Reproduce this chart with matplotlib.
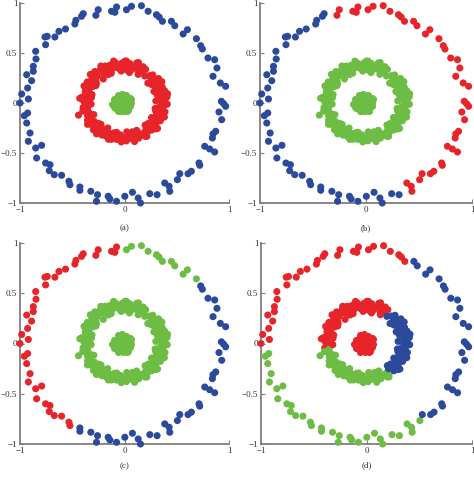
import numpy as np
import matplotlib
matplotlib.use("Agg")
import matplotlib.pyplot as plt

# ---------------- data ----------------
# outer ring points (x, y)
outer_x = [-0.252, -0.274, -0.395, -0.411, -0.465, -0.475, -0.564, -0.627, -0.666, -0.739,
           -0.761, -0.755, -0.850, -0.847, -0.873, -0.873, -0.936, -0.889, -0.927, -0.984,
           -0.920, -1.000, -0.959, -0.927, -0.936, -0.904, -0.920, -0.850, -0.793, -0.841,
           -0.755, -0.713, -0.720, -0.672, -0.602, -0.532, -0.522, -0.427, -0.427, -0.322,
           -0.258, -0.268, -0.156, -0.140, -0.076, 0.003, 0.076, 0.131, 0.153, 0.242,
           0.312, 0.385, 0.427, 0.433, 0.506, 0.529, 0.608, 0.640, 0.713, 0.720,
           0.768, 0.815, 0.863, 0.841, 0.847, 0.873, 0.930, 0.904, 0.968, 0.927,
           0.949, 0.968, 0.917, 0.847, 0.885, 0.863, 0.799, 0.745, 0.729, 0.688,
           0.561, 0.602, 0.481, 0.449, 0.363, 0.331, 0.306, 0.226, 0.162, 0.067,
           0.019, -0.076, -0.124, -0.092]
outer_y = [0.933, 0.877, 0.893, 0.867, 0.827, 0.790, 0.740, 0.717, 0.660, 0.667,
           0.660, 0.583, 0.517, 0.440, 0.367, 0.317, 0.283, 0.223, 0.150, 0.090,
           0.040, 0.000, -0.127, -0.100, -0.200, -0.300, -0.383, -0.450, -0.423, -0.550,
           -0.600, -0.617, -0.677, -0.717, -0.723, -0.783, -0.817, -0.840, -0.873, -0.883,
           -0.917, -0.983, -0.933, -0.960, -0.983, -0.933, -0.893, -0.950, -1.000, -0.907,
           -0.917, -0.800, -0.833, -0.883, -0.767, -0.707, -0.707, -0.683, -0.600, -0.623,
           -0.433, -0.460, -0.490, -0.350, -0.310, -0.283, -0.167, -0.090, -0.033, 0.017,
           -0.007, 0.167, 0.200, 0.267, 0.350, 0.433, 0.450, 0.540, 0.573, 0.643,
           0.690, 0.733, 0.773, 0.817, 0.817, 0.860, 0.883, 0.917, 0.973, 0.967,
           0.933, 0.960, 0.917, 0.907]

# middle ring: angle (deg) and radius about its centre
middle_center = (-0.01, 0.01)
middle_theta = [0, 4, 7, 9, 13, 16, 18, 22, 25, 27, 31, 35, 37, 41, 44, 47,
                57, 59, 62, 66, 68, 72, 74, 77, 81, 83, 86, 90, 92, 96, 98, 101,
                105, 107, 110, 114, 116, 119, 123, 125, 128, 132, 134, 137, 141, 143,
                146, 150, 152, 155, 159, 161, 164, 168, 170, 173, 177, 179, 182, 186,
                188, 191, 194, 197, 200, 202, 206, 208, 211, 215, 217, 220, 224, 226,
                229, 233, 235, 238, 242, 244, 247, 251, 253, 256, 260, 262, 265, 269,
                271, 274, 278, 280, 283, 287, 289, 292, 296, 298, 301, 305, 307, 310,
                314, 316, 319, 323, 325, 328, 332, 334, 337, 341, 343, 346, 350, 352, 355, 358,
                2, 11, 20, 29, 39, 63, 70, 79, 88, 94, 103, 112, 121, 130, 139, 148,
                157, 166, 175, 184, 193, 204, 213, 222, 231, 240, 249, 258, 267, 276,
                285, 294, 303, 312, 321, 330, 339, 348, 357, 33, 52, 84, 118, 144, 172,
                226, 254, 286, 318, 344]
middle_r = [0.40, 0.36, 0.42, 0.38, 0.33, 0.41, 0.37, 0.40, 0.34, 0.39, 0.36, 0.41, 0.38, 0.35, 0.39, 0.36,
            0.39, 0.36, 0.40, 0.34, 0.38, 0.41, 0.36, 0.33, 0.39, 0.37, 0.41, 0.35, 0.39, 0.37, 0.34, 0.40,
            0.37, 0.35, 0.39, 0.36, 0.40, 0.38, 0.35, 0.39, 0.37, 0.41, 0.36, 0.39, 0.34, 0.38,
            0.36, 0.40, 0.33, 0.37, 0.39, 0.35, 0.38, 0.33, 0.37, 0.40, 0.35, 0.38, 0.33, 0.37,
            0.39, 0.35, 0.38, 0.45, 0.34, 0.37, 0.35, 0.39, 0.36, 0.34, 0.38, 0.36, 0.40, 0.35,
            0.38, 0.36, 0.33, 0.39, 0.36, 0.38, 0.34, 0.37, 0.39, 0.35, 0.38, 0.36, 0.33, 0.38,
            0.36, 0.39, 0.35, 0.37, 0.34, 0.38, 0.36, 0.39, 0.35, 0.37, 0.40, 0.36, 0.38, 0.34,
            0.39, 0.37, 0.41, 0.35, 0.38, 0.36, 0.40, 0.37, 0.34, 0.39, 0.36, 0.41, 0.38, 0.35, 0.39, 0.37,
            0.31, 0.43, 0.31, 0.42, 0.30, 0.31, 0.42, 0.30, 0.41, 0.31, 0.42, 0.31, 0.42, 0.30, 0.42, 0.31,
            0.41, 0.31, 0.42, 0.31, 0.40, 0.31, 0.41, 0.32, 0.41, 0.30, 0.40, 0.31, 0.40, 0.30,
            0.41, 0.31, 0.41, 0.31, 0.42, 0.31, 0.42, 0.31, 0.42, 0.32, 0.33, 0.32, 0.31, 0.32, 0.31,
            0.31, 0.32, 0.31, 0.32, 0.32]

# inner blob: angle (deg) and radius about its centre
inner_center = (-0.02, 0.0)
inner_theta = [0, 20, 35, 50, 65, 80, 95, 110, 125, 140, 155, 170, 185, 200, 215, 230,
               245, 260, 275, 290, 305, 320, 335, 350, 10, 45, 90, 130, 175, 220, 265,
               310, 355, 60, 150, 240, 330, 0, 200, 100, 15, 280, 190, 70, 250,
               28, 118, 208, 298, 160, 340]
inner_r = [0.08, 0.05, 0.09, 0.07, 0.085, 0.06, 0.09, 0.07, 0.08, 0.05, 0.09, 0.07, 0.10, 0.06, 0.085, 0.07,
           0.09, 0.06, 0.085, 0.07, 0.09, 0.06, 0.08, 0.05, 0.02, 0.03, 0.025, 0.035, 0.03, 0.02, 0.03,
           0.035, 0.04, 0.045, 0.045, 0.045, 0.02, 0.0, 0.04, 0.05, 0.06, 0.05, 0.075, 0.07, 0.08,
           0.095, 0.095, 0.09, 0.095, 0.06, 0.07]

# cluster arcs per panel: (colour, theta_from, theta_to) in degrees, atan2 convention
panels = ["(a)", "(b)", "(c)", "(d)"]
outer_arcs = {
    "(a)": [("blue", -180, 180)],
    "(b)": [("red", -66, 110), ("blue", -180, 180)],
    "(c)": [("green", 40, 91), ("blue", -120, 40), ("red", -180, 180)],
    "(d)": [("blue", -55, 63), ("red", 63, 180), ("green", -180, 180)],
}
middle_arcs = {
    "(a)": [("red", -180, 180)],
    "(b)": [("green", -180, 180)],
    "(c)": [("green", -180, 180)],
    "(d)": [("blue", -53, 52), ("green", -172, -53), ("red", -180, 180)],
}
inner_colour = {"(a)": "green", "(b)": "green", "(c)": "green", "(d)": "red"}

palette = {"blue": "#2c4a9b", "red": "#e8242b", "green": "#6dbd45"}

# ---------------- helpers ----------------
def assign(thetas, arcs):
    out = []
    for t in thetas:
        for col, a, b in arcs:
            if a < t <= b:
                out.append(palette[col])
                break
        else:
            out.append(palette[arcs[-1][0]])
    return out

ox = np.array(outer_x); oy = np.array(outer_y)
o_theta = np.degrees(np.arctan2(oy, ox))

mt = np.radians(middle_theta); mr = np.array(middle_r)
mx = middle_center[0] + mr * np.cos(mt)
my = middle_center[1] + mr * np.sin(mt)
m_theta = np.degrees(np.arctan2(my - middle_center[1], mx - middle_center[0]))

it = np.radians(inner_theta); ir = np.array(inner_r)
ix = inner_center[0] + ir * np.cos(it)
iy = inner_center[1] + ir * np.sin(it)

# ---------------- figure ----------------
W, H = 474, 484
fig = plt.figure(figsize=(W / 100, H / 100), dpi=100)
plt.rcParams['font.family'] = ['Liberation Serif', 'DejaVu Serif']

# axes boxes in pixels: left, right, top, bottom
boxes = {
    "(a)": (20, 229, 3, 203),
    "(b)": (260, 472, 3, 203),
    "(c)": (20, 229, 243, 444),
    "(d)": (261, 472, 243, 444),
}
caption_y = {"(a)": 228, "(b)": 228, "(c)": 466, "(d)": 465}

spine_col = "#7f7f7f"
s = 26
for p in panels:
    l, r, t, b = boxes[p]
    ax = fig.add_axes([l / W, 1 - b / H, (r - l) / W, (b - t) / H])
    ax.scatter(ox, oy, s=s, c=assign(o_theta, outer_arcs[p]), linewidths=0, clip_on=False, zorder=3)
    ax.scatter(mx, my, s=s, c=assign(m_theta, middle_arcs[p]), linewidths=0, clip_on=False, zorder=3)
    ax.scatter(ix, iy, s=s, c=palette[inner_colour[p]], linewidths=0, clip_on=False, zorder=3)
    ax.set_xlim(-1, 1)
    ax.set_ylim(-1, 1)
    ax.set_xticks([-1, 0, 1])
    ax.set_xticklabels(["\u22121", "0", "1"])
    ax.set_yticks([-1, -0.5, 0, 0.5, 1])
    ax.set_yticklabels(["\u22121", "\u22120.5", "0", "0.5", "1"])
    for side in ["top", "right"]:
        ax.spines[side].set_visible(False)
    for side in ["left", "bottom"]:
        ax.spines[side].set_color(spine_col)
        ax.spines[side].set_linewidth(1.3)
    ax.tick_params(direction="in", length=3, width=0.8, color=spine_col,
                   labelsize=6.5, labelcolor="#333333", pad=2)
    ax.set_facecolor("none")
    cx = (l + r) / 2 + 0.3
    fig.text(cx / W, 1 - caption_y[p] / H, p, ha="center", va="center",
             fontsize=6.5, color="#333333")

fig.savefig("out.png", dpi=100)
